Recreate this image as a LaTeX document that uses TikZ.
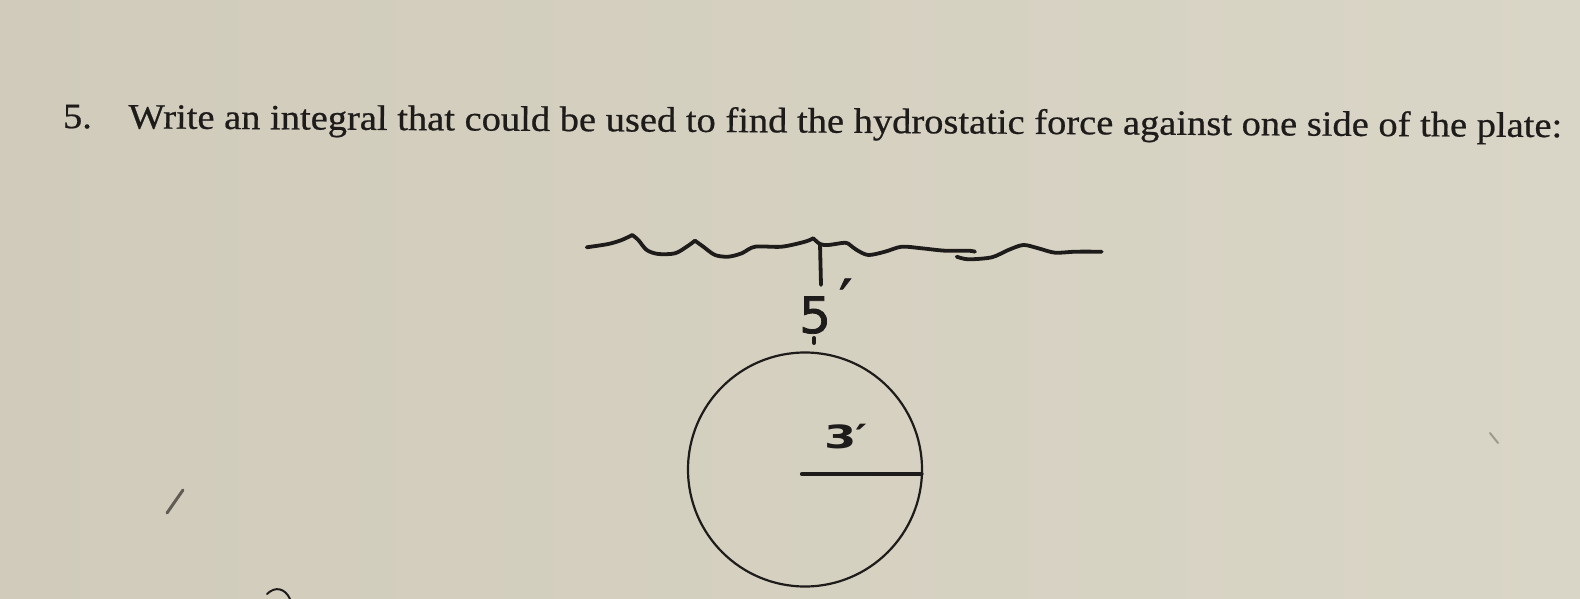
\documentclass[tikz,border=0pt]{standalone}
\usepackage{fontspec}
\usepackage{graphicx}
\newfontfamily\tnr[FakeBold=0.6]{Liberation Serif}
\newfontfamily\hand{DejaVu Sans}
\newfontfamily\handheavy[FakeBold=1.5]{DejaVu Sans}
\definecolor{paperL}{RGB}{208,203,186}
\definecolor{paperR}{RGB}{218,214,199}
\definecolor{ink}{RGB}{30,27,27}
\definecolor{smudge}{RGB}{85,80,72}
\tikzset{
  wave/.style={draw=ink, line width=3.8pt, line cap=round, line join=round},
  straymark/.style={line cap=round},
}
\begin{document}
\begin{tikzpicture}[x=1pt,y=-1pt]
\useasboundingbox (0,0) rectangle (1580,599);
\fill[left color=paperL, right color=paperR] (0,0) rectangle (1580,599);
% question text
\node[anchor=base west, inner sep=0pt, outer sep=0pt, rotate=-0.35, text=ink] (question) at (63,128)
  {\resizebox{1499pt}{25pt}{\tnr 5.\hspace{0.95em}Write an integral that could be used to find the hydrostatic force against one side of the plate:}};
% water surface
\draw[wave] plot[smooth, tension=0.5] coordinates {
 (586.7,247.3) (608.3,244) (621.7,240) (632.3,235)};
\draw[wave] plot[smooth, tension=0.5] coordinates {
 (632.3,235) (638.3,240) (646.7,250) (658.3,254) (675,253.3) (686.7,246.7) (695,240.7)};
\draw[wave] plot[smooth, tension=0.5] coordinates {
 (695,240.7) (703.3,246.7) (715,255) (728.3,256.7) (741.7,253.3) (755,246.7)
 (781.7,246.7) (805,241.7) (813.3,238.3)};
\draw[wave] plot[smooth, tension=0.5] coordinates {
 (813.3,238.3) (820,244) (828.3,245) (845,242.7) (850,245) (856.7,250) (868.3,255)
 (885,251.7) (901.7,246.7) (921.7,248.3) (945,250.7) (968.3,250.7) (975,251.7)};
\draw[wave] plot[smooth, tension=0.5] coordinates {
 (956.7,256.7) (968.3,259.3) (991.7,257.3) (1008.3,250) (1023.3,245)
 (1038.3,248.3) (1055,252.7) (1075,251.7) (1101.7,251.7)};
% depth tick
\coordinate (ticktop) at (820,244);
\coordinate (tickbot) at (821,285);
\draw[wave] (ticktop) -- (tickbot);
\node[text=ink, inner sep=0pt, anchor=base west] (depth) at (799,333)
  {\handheavy\fontsize{50}{50}\selectfont 5\kern8pt\raisebox{12pt}{\fontsize{58}{58}\selectfont ′}};
\coordinate (dottop) at (814,338);
\coordinate (dotbot) at (814,343);
\draw[ink, line width=4pt, line cap=round] (dottop) -- (dotbot);
% plate
\node[circle, draw=ink, line width=2.2pt, minimum size=234pt, inner sep=0pt] (plate) at (805,469.5) {};
\coordinate (r0) at (802,474);
\coordinate (r1) at (921.5,474);
\draw[ink, line width=4.2pt, line cap=round] (r0) -- (r1);
\node[text=ink, inner sep=0pt, anchor=base west] (radius) at (824,448)
  {\scalebox{1.45}[1]{\hand\bfseries\fontsize{32}{32}\selectfont 3\raisebox{1pt}{\kern-1pt ′}}};
% stray marks on the paper
\draw[straymark, smudge, line width=3pt, opacity=0.9] (167,513) -- (183,490);
\draw[straymark, ink, line width=2pt] (267,594) .. controls (275,586) and (285,588) .. (290,599);
\draw[straymark, smudge, line width=2pt, opacity=0.45] (1490,433) -- (1498,443);
\end{tikzpicture}
\end{document}
